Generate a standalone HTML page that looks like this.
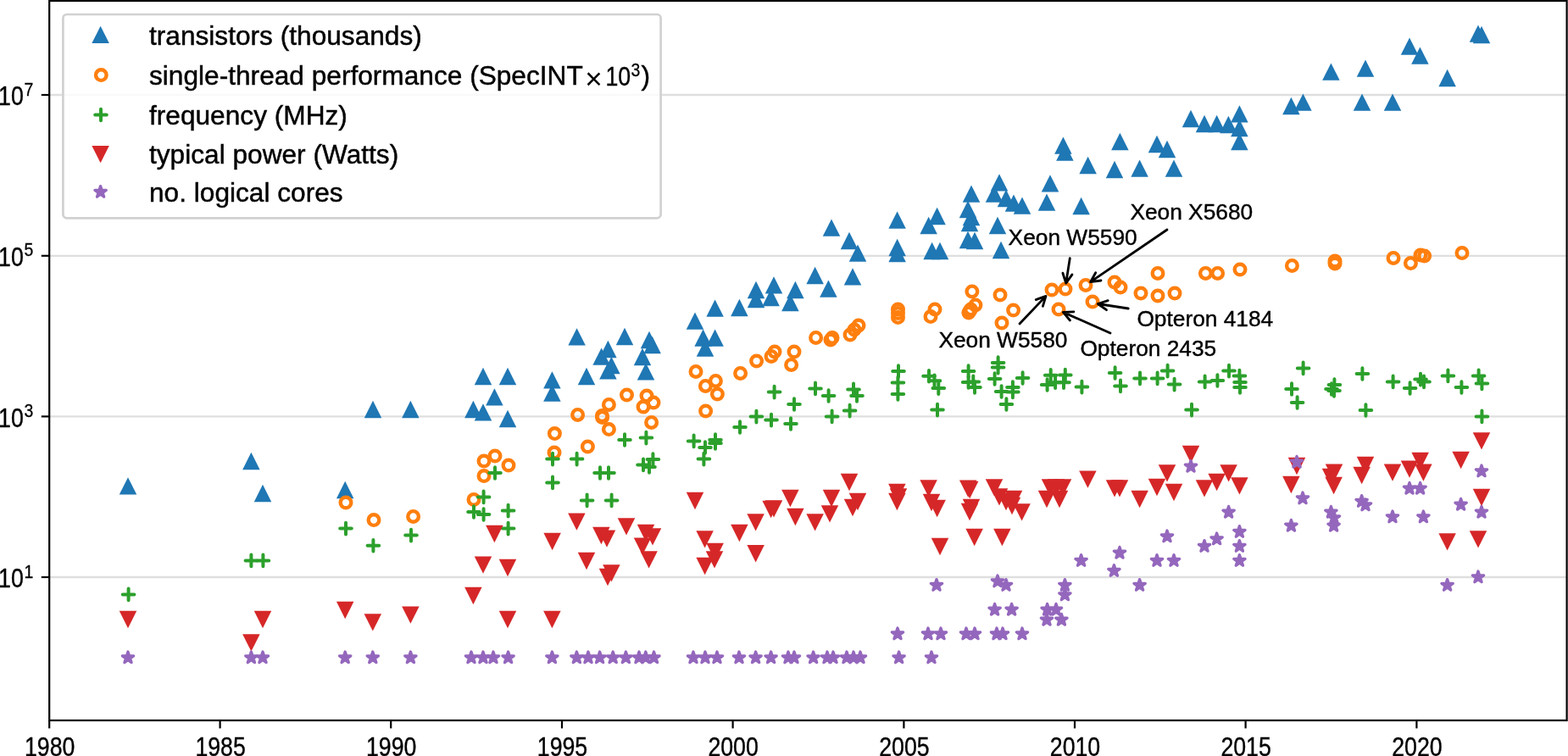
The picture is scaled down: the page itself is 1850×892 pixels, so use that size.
<!DOCTYPE html>
<html lang="en"><head><meta charset="utf-8"><title>Microprocessor trend data</title>
<style>html,body{margin:0;padding:0;background:#fff;overflow:hidden}svg{display:block}text{font-family:"Liberation Sans",Arial,Helvetica,sans-serif;fill:#000}.tk{font-size:32px;stroke:#000;stroke-width:.4px}.lg{font-size:31.65px;stroke:#000;stroke-width:.45px}.an{font-size:26.3px;stroke:#000;stroke-width:.4px}.sup{font-size:21.6px;stroke:#000;stroke-width:.3px}</style></head><body>
<svg width="1850" height="892" viewBox="0 0 1850 892">
<rect width="1850" height="892" fill="#fff"/>
<defs>
<polygon id="u" points="0,-10.2 -10.25,10.2 10.25,10.2" fill="#1f77b4"/>
<circle id="o" r="6.3" fill="none" stroke="#ff7f0e" stroke-width="4.4"/>
<path id="p" d="M-6.8,0H6.8M0,-6.8V6.8" fill="none" stroke="#2ca02c" stroke-width="4" stroke-linecap="round"/>
<polygon id="d" points="-10.25,-10.2 10.25,-10.2 0,10.2" fill="#d62728"/>
<polygon id="s" points="0.00,-7.00 1.57,-2.16 6.66,-2.16 2.54,0.83 4.11,5.66 0.00,2.67 -4.11,5.66 -2.54,0.83 -6.66,-2.16 -1.57,-2.16" fill="#9467bd" stroke="#9467bd" stroke-width="3.3" stroke-linejoin="round"/>
</defs>
<g stroke="#dfdfdf" stroke-width="2.3" fill="none">
<line x1="58.2" y1="112.0" x2="1848.6" y2="112.0"/>
<line x1="58.2" y1="301.8" x2="1848.6" y2="301.8"/>
<line x1="58.2" y1="491.4" x2="1848.6" y2="491.4"/>
<line x1="58.2" y1="681.0" x2="1848.6" y2="681.0"/>
</g>
<g>
<use href="#u" x="151" y="573.4"/><use href="#u" x="296.4" y="544"/><use href="#u" x="310" y="582"/><use href="#u" x="407.2" y="578"/><use href="#u" x="440" y="483"/><use href="#u" x="484.4" y="483"/><use href="#u" x="558.4" y="483"/><use href="#u" x="570" y="486.4"/><use href="#u" x="570" y="444"/><use href="#u" x="583.4" y="468.4"/><use href="#u" x="599" y="444"/><use href="#u" x="599" y="494"/><use href="#u" x="651.4" y="448.4"/><use href="#u" x="651.4" y="463.6"/><use href="#u" x="680.6" y="397.4"/><use href="#u" x="692" y="444"/><use href="#u" x="709.6" y="420.6"/><use href="#u" x="717.4" y="412"/><use href="#u" x="721.4" y="431"/><use href="#u" x="717.4" y="437.4"/><use href="#u" x="737" y="397"/><use href="#u" x="766" y="401"/><use href="#u" x="769.6" y="407"/><use href="#u" x="758" y="421"/><use href="#u" x="762" y="438.4"/><use href="#u" x="820" y="378.6"/><use href="#u" x="843.6" y="363.6"/><use href="#u" x="829.6" y="398.6"/><use href="#u" x="843.6" y="398.6"/><use href="#u" x="832" y="410.6"/><use href="#u" x="872.4" y="363"/><use href="#u" x="892" y="353"/><use href="#u" x="909.6" y="351"/><use href="#u" x="932.4" y="357"/><use href="#u" x="981" y="268.6"/><use href="#u" x="1002" y="284"/><use href="#u" x="1012" y="298.6"/><use href="#u" x="1006" y="326.4"/><use href="#u" x="961.6" y="325"/><use href="#u" x="977.4" y="340.6"/><use href="#u" x="938.4" y="342"/><use href="#u" x="913" y="336.4"/><use href="#u" x="892" y="342"/><use href="#u" x="1058.6" y="259.6"/><use href="#u" x="1058.6" y="292"/><use href="#u" x="1058.6" y="299"/><use href="#u" x="1095.6" y="266"/><use href="#u" x="1105.6" y="255"/><use href="#u" x="1099.6" y="296"/><use href="#u" x="1109" y="296"/><use href="#u" x="1146" y="228.6"/><use href="#u" x="1142" y="247"/><use href="#u" x="1146" y="256"/><use href="#u" x="1144" y="263"/><use href="#u" x="1142" y="283"/><use href="#u" x="1150" y="284"/><use href="#u" x="1179" y="215.4"/><use href="#u" x="1173" y="228.6"/><use href="#u" x="1187" y="234"/><use href="#u" x="1177" y="266"/><use href="#u" x="1181" y="295"/><use href="#u" x="1196" y="239.6"/><use href="#u" x="1206" y="242.6"/><use href="#u" x="1239" y="216.4"/><use href="#u" x="1235" y="238.6"/><use href="#u" x="1275.6" y="243"/><use href="#u" x="1256.4" y="179.6"/><use href="#u" x="1283.6" y="195"/><use href="#u" x="1315" y="200"/><use href="#u" x="1344.6" y="198.6"/><use href="#u" x="1385" y="198.6"/><use href="#u" x="1254.4" y="171.6"/><use href="#u" x="1321.4" y="167"/><use href="#u" x="1365" y="170"/><use href="#u" x="1377" y="176"/><use href="#u" x="1405" y="140"/><use href="#u" x="1421" y="146"/><use href="#u" x="1435.6" y="146"/><use href="#u" x="1449.4" y="147"/><use href="#u" x="1462.4" y="134.4"/><use href="#u" x="1462.4" y="151"/><use href="#u" x="1462.4" y="167"/><use href="#u" x="1523.4" y="125"/><use href="#u" x="1537.4" y="120.6"/><use href="#u" x="1570.4" y="84.6"/><use href="#u" x="1607" y="120.6"/><use href="#u" x="1611" y="80.6"/><use href="#u" x="1643" y="120.6"/><use href="#u" x="1663" y="54.6"/><use href="#u" x="1675.4" y="65.6"/><use href="#u" x="1707.6" y="92"/><use href="#u" x="1744" y="39.6"/><use href="#u" x="1748" y="41"/>
</g>
<g>
<use href="#o" x="408" y="593"/><use href="#o" x="441" y="613.6"/><use href="#o" x="487.6" y="609.4"/><use href="#o" x="559" y="589.4"/><use href="#o" x="571" y="561.6"/><use href="#o" x="571" y="544"/><use href="#o" x="584" y="538"/><use href="#o" x="600" y="549"/><use href="#o" x="654" y="534"/><use href="#o" x="681.6" y="489.4"/><use href="#o" x="710.6" y="492.4"/><use href="#o" x="718.4" y="477.4"/><use href="#o" x="710.4" y="490.6"/><use href="#o" x="718.4" y="506.6"/><use href="#o" x="739.5" y="466"/><use href="#o" x="654.4" y="511.6"/><use href="#o" x="693.4" y="527"/><use href="#o" x="763" y="467"/><use href="#o" x="771" y="475"/><use href="#o" x="759" y="480"/><use href="#o" x="768.6" y="498.4"/><use href="#o" x="821" y="438.4"/><use href="#o" x="832.4" y="455.4"/><use href="#o" x="844.4" y="449.4"/><use href="#o" x="846.4" y="465"/><use href="#o" x="832.6" y="485"/><use href="#o" x="873.6" y="440.4"/><use href="#o" x="892.6" y="426"/><use href="#o" x="910" y="420.4"/><use href="#o" x="914" y="415"/><use href="#o" x="937" y="415"/><use href="#o" x="933.6" y="430.4"/><use href="#o" x="962.6" y="398.4"/><use href="#o" x="980" y="401"/><use href="#o" x="982" y="398.4"/><use href="#o" x="1003" y="395"/><use href="#o" x="1008" y="389"/><use href="#o" x="1013" y="384"/><use href="#o" x="1059.5" y="365"/><use href="#o" x="1059.5" y="369.5"/><use href="#o" x="1059.5" y="374.6"/><use href="#o" x="1098" y="373.6"/><use href="#o" x="1103" y="365"/><use href="#o" x="1142.9" y="369.1"/><use href="#o" x="1144.2" y="367"/><use href="#o" x="1145.4" y="364.9"/><use href="#o" x="1150.9" y="359.9"/><use href="#o" x="1195.6" y="366"/><use href="#o" x="1182" y="381"/><use href="#o" x="1249" y="365"/><use href="#o" x="1289" y="356"/><use href="#o" x="1146.9" y="343.9"/><use href="#o" x="1180" y="348"/><use href="#o" x="1241" y="342"/><use href="#o" x="1257" y="341"/><use href="#o" x="1281" y="336.4"/><use href="#o" x="1315" y="333"/><use href="#o" x="1322" y="339"/><use href="#o" x="1346" y="346"/><use href="#o" x="1366" y="322.4"/><use href="#o" x="1366" y="349"/><use href="#o" x="1386" y="346"/><use href="#o" x="1422.4" y="322.4"/><use href="#o" x="1436.6" y="322.4"/><use href="#o" x="1463" y="318"/><use href="#o" x="1524.4" y="313.4"/><use href="#o" x="1575" y="308"/><use href="#o" x="1575" y="311"/><use href="#o" x="1644" y="304.4"/><use href="#o" x="1664.4" y="310.6"/><use href="#o" x="1676" y="301"/><use href="#o" x="1680.6" y="302"/><use href="#o" x="1725" y="298.6"/>
</g>
<g>
<use href="#p" x="151.6" y="701.4"/><use href="#p" x="296.4" y="661.4"/><use href="#p" x="310.4" y="661.4"/><use href="#p" x="408" y="623.6"/><use href="#p" x="440.4" y="643.8"/><use href="#p" x="485" y="631.6"/><use href="#p" x="559" y="604"/><use href="#p" x="570.6" y="586.4"/><use href="#p" x="570.6" y="607"/><use href="#p" x="584" y="558"/><use href="#p" x="599.6" y="602.6"/><use href="#p" x="599.6" y="623.6"/><use href="#p" x="652" y="541.6"/><use href="#p" x="652" y="569.4"/><use href="#p" x="680.6" y="541.6"/><use href="#p" x="708" y="558"/><use href="#p" x="718" y="558"/><use href="#p" x="692.6" y="590.4"/><use href="#p" x="721.6" y="590.4"/><use href="#p" x="737" y="519"/><use href="#p" x="759" y="548.4"/><use href="#p" x="766" y="551"/><use href="#p" x="770.4" y="542"/><use href="#p" x="830.4" y="541.6"/><use href="#p" x="762.4" y="516.6"/><use href="#p" x="818.6" y="520.4"/><use href="#p" x="844" y="519"/><use href="#p" x="844" y="523"/><use href="#p" x="832" y="528"/><use href="#p" x="873" y="504"/><use href="#p" x="892.4" y="491.6"/><use href="#p" x="910" y="495.6"/><use href="#p" x="913.6" y="462.6"/><use href="#p" x="937" y="477"/><use href="#p" x="933" y="500"/><use href="#p" x="962" y="458.4"/><use href="#p" x="977.6" y="467"/><use href="#p" x="981.6" y="491.4"/><use href="#p" x="1002.6" y="484.6"/><use href="#p" x="1007" y="459.4"/><use href="#p" x="1011" y="467"/><use href="#p" x="1060" y="438"/><use href="#p" x="1059.4" y="451.6"/><use href="#p" x="1059.4" y="465"/><use href="#p" x="1096" y="443.8"/><use href="#p" x="1102.5" y="449.2"/><use href="#p" x="1107.3" y="458.1"/><use href="#p" x="1106" y="483.6"/><use href="#p" x="1142.6" y="438"/><use href="#p" x="1142.6" y="451"/><use href="#p" x="1150" y="457"/><use href="#p" x="1148.3" y="450.4"/><use href="#p" x="1177.6" y="428"/><use href="#p" x="1177.6" y="433.6"/><use href="#p" x="1173.6" y="447"/><use href="#p" x="1181.6" y="462"/><use href="#p" x="1194.9" y="457.1"/><use href="#p" x="1194.9" y="462.5"/><use href="#p" x="1187.4" y="477"/><use href="#p" x="1206.6" y="446"/><use href="#p" x="1235.6" y="454"/><use href="#p" x="1239.7" y="442.7"/><use href="#p" x="1245.1" y="451.3"/><use href="#p" x="1255" y="451.3"/><use href="#p" x="1256.8" y="442.5"/><use href="#p" x="1276.4" y="456.6"/><use href="#p" x="1315.6" y="440"/><use href="#p" x="1322" y="455.4"/><use href="#p" x="1345" y="446.4"/><use href="#p" x="1365.6" y="446.4"/><use href="#p" x="1377.6" y="437.6"/><use href="#p" x="1385.6" y="453.6"/><use href="#p" x="1406" y="483.6"/><use href="#p" x="1421.6" y="450.4"/><use href="#p" x="1436.4" y="449"/><use href="#p" x="1450" y="437.6"/><use href="#p" x="1462.4" y="443.6"/><use href="#p" x="1463" y="451"/><use href="#p" x="1463" y="457"/><use href="#p" x="1537.6" y="434.4"/><use href="#p" x="1524" y="459"/><use href="#p" x="1530.6" y="475"/><use href="#p" x="1574.4" y="454"/><use href="#p" x="1571" y="459"/><use href="#p" x="1574" y="461"/><use href="#p" x="1607.4" y="441"/><use href="#p" x="1611.4" y="484"/><use href="#p" x="1643.6" y="450.4"/><use href="#p" x="1663.6" y="458"/><use href="#p" x="1676" y="447.6"/><use href="#p" x="1680" y="450.4"/><use href="#p" x="1708.4" y="443.4"/><use href="#p" x="1724.4" y="457"/><use href="#p" x="1744.6" y="443.4"/><use href="#p" x="1748.4" y="452.4"/><use href="#p" x="1748.4" y="491.4"/>
</g>
<g>
<use href="#d" x="151" y="731"/><use href="#d" x="310" y="731"/><use href="#d" x="296.4" y="758.4"/><use href="#d" x="407.2" y="720"/><use href="#d" x="439.8" y="734.4"/><use href="#d" x="484.4" y="725.6"/><use href="#d" x="599" y="731"/><use href="#d" x="651.4" y="731"/><use href="#d" x="558.4" y="703"/><use href="#d" x="570" y="666.6"/><use href="#d" x="599" y="670"/><use href="#d" x="583.4" y="630"/><use href="#d" x="651.6" y="639"/><use href="#d" x="680.4" y="615.6"/><use href="#d" x="692" y="662"/><use href="#d" x="709.4" y="632"/><use href="#d" x="716" y="635.6"/><use href="#d" x="717" y="681"/><use href="#d" x="721.4" y="676.4"/><use href="#d" x="739" y="621.4"/><use href="#d" x="762" y="629"/><use href="#d" x="770" y="633.4"/><use href="#d" x="758" y="644.6"/><use href="#d" x="765.6" y="660.4"/><use href="#d" x="820" y="591"/><use href="#d" x="831.6" y="636.4"/><use href="#d" x="843.6" y="651"/><use href="#d" x="843" y="660.4"/><use href="#d" x="831.6" y="668"/><use href="#d" x="872.4" y="629"/><use href="#d" x="891.6" y="616.4"/><use href="#d" x="891.6" y="653.2"/><use href="#d" x="909.6" y="601"/><use href="#d" x="913" y="600.4"/><use href="#d" x="932.4" y="588"/><use href="#d" x="938.4" y="610"/><use href="#d" x="961.6" y="616.4"/><use href="#d" x="979" y="606.4"/><use href="#d" x="981" y="588"/><use href="#d" x="1002" y="569"/><use href="#d" x="1006" y="599"/><use href="#d" x="1012" y="592"/><use href="#d" x="1058.4" y="581"/><use href="#d" x="1060" y="586.4"/><use href="#d" x="1058.4" y="592"/><use href="#d" x="1095.6" y="576.4"/><use href="#d" x="1099" y="593"/><use href="#d" x="1105.6" y="600"/><use href="#d" x="1109" y="645"/><use href="#d" x="1142.2" y="576.6"/><use href="#d" x="1144.2" y="578"/><use href="#d" x="1146" y="599"/><use href="#d" x="1144" y="604"/><use href="#d" x="1149.6" y="634"/><use href="#d" x="1173" y="575.4"/><use href="#d" x="1179" y="586.4"/><use href="#d" x="1187" y="592"/><use href="#d" x="1196" y="589"/><use href="#d" x="1194" y="597"/><use href="#d" x="1205.6" y="604.4"/><use href="#d" x="1182.4" y="634"/><use href="#d" x="1235" y="589"/><use href="#d" x="1239" y="575.4"/><use href="#d" x="1250" y="589"/><use href="#d" x="1254" y="575.4"/><use href="#d" x="1246" y="575.4"/><use href="#d" x="1283.4" y="565.6"/><use href="#d" x="1315" y="576.4"/><use href="#d" x="1321" y="576.4"/><use href="#d" x="1344.6" y="589"/><use href="#d" x="1365" y="575"/><use href="#d" x="1377" y="558.4"/><use href="#d" x="1385" y="581"/><use href="#d" x="1405" y="536"/><use href="#d" x="1421" y="576.4"/><use href="#d" x="1435.6" y="569"/><use href="#d" x="1449.6" y="558.4"/><use href="#d" x="1462.4" y="573.4"/><use href="#d" x="1530" y="550"/><use href="#d" x="1523.4" y="572"/><use href="#d" x="1574" y="557.6"/><use href="#d" x="1570" y="563"/><use href="#d" x="1573.6" y="573"/><use href="#d" x="1611" y="549"/><use href="#d" x="1606.6" y="561"/><use href="#d" x="1643" y="557.6"/><use href="#d" x="1663" y="553.6"/><use href="#d" x="1675.6" y="544"/><use href="#d" x="1679.4" y="557.6"/><use href="#d" x="1723.6" y="543"/><use href="#d" x="1748" y="587"/><use href="#d" x="1744" y="636.4"/><use href="#d" x="1707.6" y="639.4"/><use href="#d" x="1748" y="520.4"/>
</g>
<g>
<use href="#s" x="151" y="776"/><use href="#s" x="296.4" y="776"/><use href="#s" x="310" y="776"/><use href="#s" x="407.2" y="776"/><use href="#s" x="439.8" y="776"/><use href="#s" x="484.4" y="776"/><use href="#s" x="556" y="776"/><use href="#s" x="570" y="776"/><use href="#s" x="582" y="776"/><use href="#s" x="599.6" y="776"/><use href="#s" x="651.4" y="776"/><use href="#s" x="680.4" y="776"/><use href="#s" x="694" y="776"/><use href="#s" x="707.6" y="776"/><use href="#s" x="723.2" y="776"/><use href="#s" x="738.4" y="776"/><use href="#s" x="754" y="776"/><use href="#s" x="761.8" y="776"/><use href="#s" x="771.5" y="776"/><use href="#s" x="818" y="776"/><use href="#s" x="832" y="776"/><use href="#s" x="846" y="776"/><use href="#s" x="872" y="776"/><use href="#s" x="891.6" y="776"/><use href="#s" x="909.6" y="776"/><use href="#s" x="930" y="776"/><use href="#s" x="937" y="776"/><use href="#s" x="959.6" y="776"/><use href="#s" x="976" y="776"/><use href="#s" x="983" y="776"/><use href="#s" x="999" y="776"/><use href="#s" x="1007" y="776"/><use href="#s" x="1015" y="776"/><use href="#s" x="1060.6" y="776"/><use href="#s" x="1099" y="776"/><use href="#s" x="1059" y="748"/><use href="#s" x="1095" y="748"/><use href="#s" x="1110" y="748"/><use href="#s" x="1140" y="748"/><use href="#s" x="1150" y="748"/><use href="#s" x="1176" y="748"/><use href="#s" x="1183" y="748"/><use href="#s" x="1206" y="748"/><use href="#s" x="1173.6" y="719.4"/><use href="#s" x="1193.6" y="719.4"/><use href="#s" x="1235.6" y="719.4"/><use href="#s" x="1246" y="719.4"/><use href="#s" x="1235" y="731.4"/><use href="#s" x="1252.4" y="731.4"/><use href="#s" x="1105" y="690.6"/><use href="#s" x="1405" y="550.4"/><use href="#s" x="1449.6" y="604.4"/><use href="#s" x="1462.4" y="627.6"/><use href="#s" x="1462.4" y="644.6"/><use href="#s" x="1462.4" y="661.6"/><use href="#s" x="1435.6" y="636"/><use href="#s" x="1421" y="644.6"/><use href="#s" x="1377" y="633"/><use href="#s" x="1365" y="661.6"/><use href="#s" x="1385" y="661.6"/><use href="#s" x="1321" y="652.4"/><use href="#s" x="1314.4" y="673.6"/><use href="#s" x="1344.6" y="690.6"/><use href="#s" x="1275.6" y="661.6"/><use href="#s" x="1256.4" y="690.6"/><use href="#s" x="1256.4" y="702"/><use href="#s" x="1177" y="686"/><use href="#s" x="1187" y="690.6"/><use href="#s" x="1530" y="545.4"/><use href="#s" x="1537" y="588"/><use href="#s" x="1523.4" y="620.4"/><use href="#s" x="1570.4" y="604.4"/><use href="#s" x="1574" y="611"/><use href="#s" x="1573.6" y="620.4"/><use href="#s" x="1606.6" y="591.6"/><use href="#s" x="1611" y="596"/><use href="#s" x="1643" y="610"/><use href="#s" x="1663" y="576.4"/><use href="#s" x="1675.6" y="576.4"/><use href="#s" x="1679.4" y="610"/><use href="#s" x="1723.6" y="595.4"/><use href="#s" x="1748" y="556"/><use href="#s" x="1748" y="604.4"/><use href="#s" x="1744" y="681"/><use href="#s" x="1707.6" y="690.6"/>
</g>
<rect x="58.2" y="1.0" width="1790.3999999999999" height="849.0" fill="none" stroke="#000" stroke-width="2.2"/>
<g stroke="#000" stroke-width="2.2">
<line x1="58.2" y1="850.0" x2="58.2" y2="859.4"/>
<line x1="259.6" y1="850.0" x2="259.6" y2="859.4"/>
<line x1="461.2" y1="850.0" x2="461.2" y2="859.4"/>
<line x1="663" y1="850.0" x2="663" y2="859.4"/>
<line x1="864.6" y1="850.0" x2="864.6" y2="859.4"/>
<line x1="1066.4" y1="850.0" x2="1066.4" y2="859.4"/>
<line x1="1268" y1="850.0" x2="1268" y2="859.4"/>
<line x1="1469.6" y1="850.0" x2="1469.6" y2="859.4"/>
<line x1="1671.4" y1="850.0" x2="1671.4" y2="859.4"/>
<line x1="48.800000000000004" y1="112.0" x2="58.2" y2="112.0"/>
<line x1="48.800000000000004" y1="301.8" x2="58.2" y2="301.8"/>
<line x1="48.800000000000004" y1="491.4" x2="58.2" y2="491.4"/>
<line x1="48.800000000000004" y1="681.0" x2="58.2" y2="681.0"/>
</g>
<text class="tk" text-anchor="middle" transform="translate(58.7,892) scale(0.835,1)">1980</text>
<text class="tk" text-anchor="middle" transform="translate(260.1,892) scale(0.835,1)">1985</text>
<text class="tk" text-anchor="middle" transform="translate(461.7,892) scale(0.835,1)">1990</text>
<text class="tk" text-anchor="middle" transform="translate(663.5,892) scale(0.835,1)">1995</text>
<text class="tk" text-anchor="middle" transform="translate(865.1,892) scale(0.835,1)">2000</text>
<text class="tk" text-anchor="middle" transform="translate(1066.9,892) scale(0.835,1)">2005</text>
<text class="tk" text-anchor="middle" transform="translate(1268.5,892) scale(0.835,1)">2010</text>
<text class="tk" text-anchor="middle" transform="translate(1470.1,892) scale(0.835,1)">2015</text>
<text class="tk" text-anchor="middle" transform="translate(1671.9,892) scale(0.835,1)">2020</text>
<text class="tk" text-anchor="end" transform="translate(27.8,124.3) scale(0.835,1)">10</text>
<text class="sup" transform="translate(28.6,112.5) scale(0.9,1)">7</text>
<text class="tk" text-anchor="end" transform="translate(27.8,314.1) scale(0.835,1)">10</text>
<text class="sup" transform="translate(28.6,302.3) scale(0.9,1)">5</text>
<text class="tk" text-anchor="end" transform="translate(27.8,503.7) scale(0.835,1)">10</text>
<text class="sup" transform="translate(28.6,491.9) scale(0.9,1)">3</text>
<text class="tk" text-anchor="end" transform="translate(27.8,693.3) scale(0.835,1)">10</text>
<text class="sup" transform="translate(28.6,681.5) scale(0.9,1)">1</text>
<path d="M1262.3,304.7L1257.7,334.1M1253.9,322.2L1257.7,334.1L1265,323.9" fill="none" stroke="#000" stroke-width="2.8" stroke-linecap="round" stroke-linejoin="round"/>
<path d="M1377,271L1286.6,332.7M1292.7,321.8L1286.6,332.7L1299,331" fill="none" stroke="#000" stroke-width="2.8" stroke-linecap="round" stroke-linejoin="round"/>
<path d="M1203,382L1234,349.4M1230.4,361.4L1234,349.4L1222.2,353.6" fill="none" stroke="#000" stroke-width="2.8" stroke-linecap="round" stroke-linejoin="round"/>
<path d="M1310,393L1254.4,368.4M1266.9,367.8L1254.4,368.4L1262.4,378" fill="none" stroke="#000" stroke-width="2.8" stroke-linecap="round" stroke-linejoin="round"/>
<path d="M1331.2,364L1295.3,358.5M1307.2,354.7L1295.3,358.5L1305.5,365.7" fill="none" stroke="#000" stroke-width="2.8" stroke-linecap="round" stroke-linejoin="round"/>
<text class="an" x="1189.6" y="289.0">Xeon W5590</text>
<text class="an" x="1333.4" y="258.6">Xeon X5680</text>
<text class="an" x="1107.4" y="410.0">Xeon W5580</text>
<text class="an" x="1274.4" y="419.6">Opteron 2435</text>
<text class="an" x="1341.4" y="384.6">Opteron 4184</text>
<rect x="74.4" y="17" width="705.2" height="240.4" rx="4.5" ry="4.5" fill="#fff" fill-opacity="0.8" stroke="#d1d1d1" stroke-width="2.7"/>
<use href="#u" x="118.6" y="40.9"/><use href="#o" x="119.3" y="88.6"/><use href="#p" x="119" y="135.5"/><use href="#d" x="118.6" y="182.1"/><use href="#s" x="118.6" y="226.6"/>
<text class="lg" x="176" y="53">transistors (thousands)</text>
<text class="lg" x="176" y="100.1">single-thread performance (SpecINT</text>
<text x="690.3" y="105" style="font-size:35px">×</text>
<text class="tk" transform="translate(714.5,101) scale(0.835,1)">10</text>
<text class="sup" transform="translate(744.6,90.2) scale(0.9,1)">3</text>
<text class="lg" x="756.6" y="100.1">)</text>
<text class="lg" x="176" y="147">frequency (MHz)</text>
<text class="lg" x="176" y="192.9">typical power (Watts)</text>
<text class="lg" x="176" y="237.6">no. logical cores</text>
</svg></body></html>
